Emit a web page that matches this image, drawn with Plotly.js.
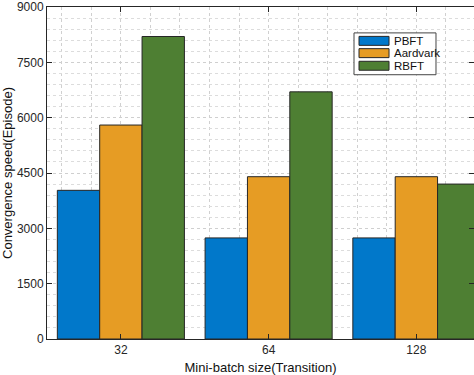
<!DOCTYPE html>
<html>
<head>
<meta charset="utf-8">
<script src="https://cdn.plot.ly/plotly-3.0.1.min.js"></script>
<style>html,body{margin:0;padding:0;background:#fff;}#chart{width:474px;height:375px;}</style>
</head>
<body>
<div id="chart"></div>
<script>
const categories = ["32", "64", "128"];
const pbft = [4030, 2740, 2740];
const aardvark = [5800, 4400, 4400];
const rbft = [8200, 6700, 4200];
const seriesNames = ["PBFT", "Aardvark", "RBFT"];
const yTicks = [0, 1500, 3000, 4500, 6000, 7500, 9000];

const xIdx = categories.map((c, i) => i);
const colors = ["#0178CA", "#E69C24", "#4E7F33"];
const data = [pbft, aardvark, rbft].map((vals, k) => ({
  type: "bar",
  name: seriesNames[k],
  x: xIdx,
  y: vals,
  marker: {color: colors[k], line: {color: "#262626", width: 1}}
}));

const fontFamily = "Liberation Sans, Arial, sans-serif";

// Legend box drawn in paper coordinates (MATLAB-style wide swatches)
const legBox = {x0: 0.719, x1: 0.911, y0: 0.796, y1: 0.922};
const rowY = [0.898, 0.861, 0.823];
const swH = 0.0135;
const shapes = [{
  type: "rect", xref: "paper", yref: "paper",
  x0: legBox.x0, x1: legBox.x1, y0: legBox.y0, y1: legBox.y1,
  fillcolor: "#fff", line: {color: "#444", width: 1}, layer: "above"
}];
const annotations = [];
seriesNames.forEach((n, k) => {
  shapes.push({
    type: "rect", xref: "paper", yref: "paper",
    x0: 0.7307, x1: 0.801, y0: rowY[k] - swH, y1: rowY[k] + swH,
    fillcolor: colors[k], line: {color: "#262626", width: 1}, layer: "above"
  });
  annotations.push({
    xref: "paper", yref: "paper", x: 0.808, y: rowY[k],
    xanchor: "left", yanchor: "middle", showarrow: false,
    text: n, font: {family: fontFamily, size: 11.5, color: "#111"}
  });
});

const layout = {
  width: 474, height: 375,
  margin: {l: 47, r: 0, t: 7, b: 36},
  paper_bgcolor: "#fff", plot_bgcolor: "#fff",
  font: {family: fontFamily, size: 12, color: "#262626"},
  barmode: "group", bargap: 0.14, bargroupgap: 0,
  showlegend: false,
  shapes: shapes,
  annotations: annotations,
  xaxis: {
    range: [-0.5, 2.39],
    tickvals: xIdx, ticktext: categories,
    ticks: "inside", ticklen: 5, tickcolor: "#262626",
    showline: true, linecolor: "#262626", linewidth: 1, mirror: "ticks",
    showgrid: false, zeroline: false,
    minor: {dtick: 0.2, tick0: -0.4, showgrid: true, gridcolor: "#d0d0d0", griddash: "dot", gridwidth: 1, ticks: ""},
    title: {text: "Mini-batch size(Transition)", font: {size: 13, color: "#111"}, standoff: 6},
    tickfont: {size: 12, color: "#262626"}
  },
  yaxis: {
    range: [0, 9000],
    tickvals: yTicks,
    ticklabeloverflow: "allow",
    ticks: "inside", ticklen: 5, tickcolor: "#262626",
    showline: true, linecolor: "#262626", linewidth: 1, mirror: "ticks",
    showgrid: true, gridcolor: "#cfcfcf", griddash: "dot", gridwidth: 1,
    zeroline: false,
    minor: {dtick: 300, showgrid: true, gridcolor: "#dcdcdc", griddash: "dot", gridwidth: 1, ticks: ""},
    title: {text: "Convergence speed(Episode)", font: {size: 13, color: "#111"}, standoff: 6},
    tickfont: {size: 12, color: "#262626"}
  }
};
Plotly.newPlot("chart", data, layout, {displayModeBar: false, staticPlot: true});
</script>
</body>
</html>
